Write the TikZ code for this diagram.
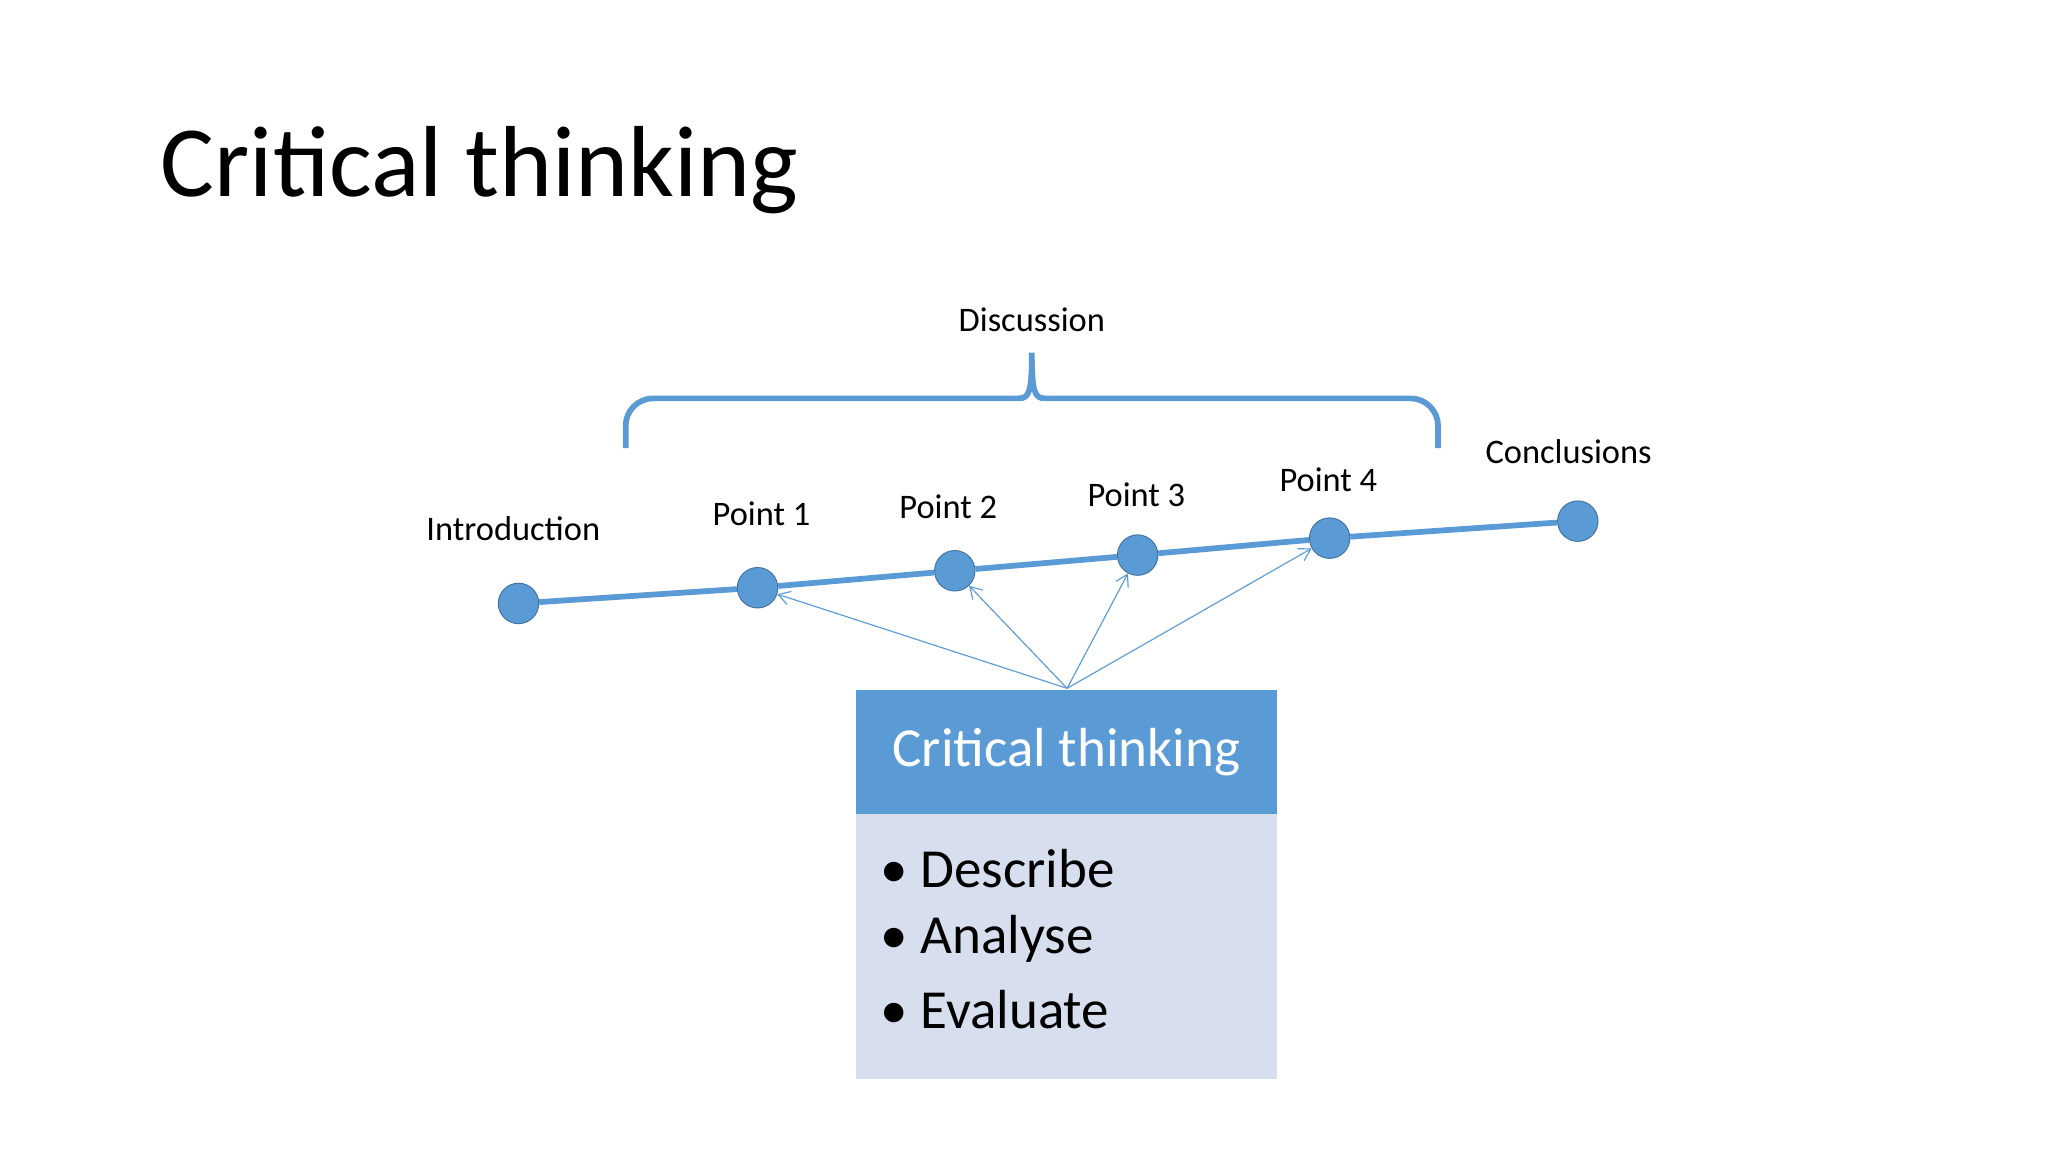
\documentclass[tikz,border=0pt]{standalone}
\usepackage{fontspec}
\setmainfont{Carlito}
\usetikzlibrary{arrows.meta}
\definecolor{accent}{HTML}{5B9BD5}
\definecolor{pale}{HTML}{D7DFEE}
\definecolor{rim}{HTML}{41719C}
\begin{document}
\begin{tikzpicture}[x=0.02cm,y=-0.02cm,
  dot/.style={circle,fill=accent,draw=rim,thin,minimum size=0.62cm,inner sep=0pt},
  lbl/.style={font=\fontsize{15}{18}\selectfont},
  link/.style={accent,line width=0.5pt,-{Straight Barb[length=5pt,width=6pt]}}]
\useasboundingbox[fill=white] (0,0) rectangle (1568,882);

%title
\node[anchor=west,font=\fontsize{44}{50}\selectfont] (title) at (117,130) {Critical thinking};

%timeline
\node[dot] (intro) at (397,462) {};
\node[dot] (p1) at (580,450) {};
\node[dot] (p2) at (731,437) {};
\node[dot] (p3) at (871,425) {};
\node[dot] (p4) at (1018,412) {};
\node[dot] (concl) at (1208,399) {};
\begin{scope}[on background layer/.style={}]
\draw[accent,line width=2.5pt] (intro) -- (p1) -- (p2) -- (p3) -- (p4) -- (concl);
\end{scope}

%labels
\node[lbl] (lintro) at (393,405) {Introduction};
\node[lbl] (lp1) at (583,393) {Point 1};
\node[lbl] (lp2) at (726,388) {Point 2};
\node[lbl] (lp3) at (870,379) {Point 3};
\node[lbl] (lp4) at (1017,367) {Point 4};
\node[lbl] (lconcl) at (1201,346) {Conclusions};
\node[lbl] (disc) at (790,245) {Discussion};

%brace
\draw[accent,line width=2.5pt,rounded corners=12] (479,343) |- (780,305);
\draw[accent,line width=2.5pt,rounded corners=12] (1101,343) |- (800,305);
\draw[accent,line width=2.5pt] (780,305) .. controls (788,305) and (790,300) .. (790,270)
  .. controls (790,300) and (792,305) .. (800,305);

%box
\fill[pale] (655,623) rectangle (978,826);
\fill[accent] (655,528) rectangle (978,623);
\node[white,font=\fontsize{24}{28}\selectfont] (head) at (816.5,576) {Critical thinking};
\coordinate (src) at (817,527);
\foreach \i/\w in {665/Describe,719/Analyse,773/Evaluate}
  \node[anchor=west,font=\fontsize{24}{28}\selectfont] at (668,\i) {\textbullet\ \w};

%arrows
\foreach \t in {p1,p2,p3,p4}
  \draw[link] (src) -- (\t);
\end{tikzpicture}
\end{document}
